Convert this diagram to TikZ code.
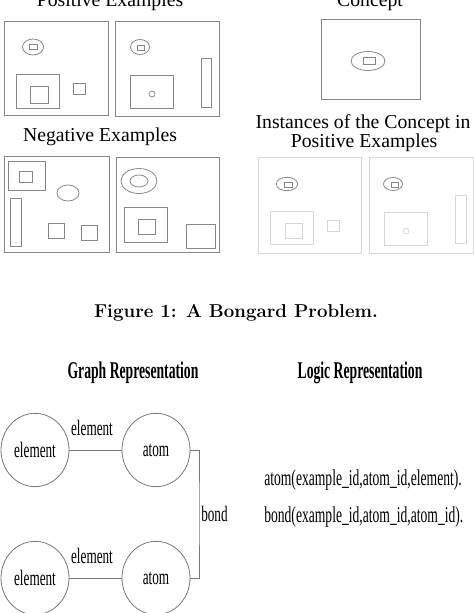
\documentclass[tikz,border=0pt]{standalone}
\usepackage{fontspec}
\usepackage{xcolor}
\usepackage{tikz}
\newfontfamily\timesfont{Liberation Serif}
\newfontfamily\condfont[FakeStretch=0.6]{Liberation Serif}
\newfontfamily\condbold[FakeStretch=0.57]{Liberation Serif}
\definecolor{boxgray}{RGB}{135,135,135}
\definecolor{linegray}{RGB}{120,120,120}
\definecolor{faintgray}{RGB}{215,215,215}
\usetikzlibrary{shapes.geometric}

\begin{document}
\begin{tikzpicture}[x=0.75pt, y=-0.75pt,
    panel/.style={draw=boxgray, line width=0.6pt},
    faint/.style={draw=faintgray, line width=0.6pt},
    head/.style={font=\timesfont\fontsize{14.8}{18}\selectfont, anchor=base},
    gnode/.style={ellipse, draw=linegray, line width=0.6pt,
                  minimum width=51pt, minimum height=55pt, inner sep=0pt,
                  font=\condfont\fontsize{16.5}{20}\selectfont},
    glabel/.style={font=\condfont\fontsize{16.5}{20}\selectfont, anchor=base, inner sep=0pt},
    gline/.style={draw=linegray, line width=0.6pt},
    gtitle/.style={font=\condbold\bfseries\fontsize{18}{22}\selectfont, anchor=base},
    fact/.style={font=\condfont\fontsize{17}{20}\selectfont, anchor=base west, inner sep=0pt}
]
    \useasboundingbox (0,0) rectangle (474,613);
    % positive examples
    \node[head] (postitle) at (110,7) {Positive Examples};
    \draw[panel] (4,21) rectangle (108,115);
    \draw[panel] (33,47) ellipse [x radius=10.5, y radius=8];
    \draw[panel] (29,44) rectangle (37,49);
    \draw[panel] (16,74) rectangle (59,108);
    \draw[panel] (30,86) rectangle (48,103);
    \draw[panel] (73,83) rectangle (85,94);
    \draw[panel] (115,21) rectangle (219,116);
    \draw[panel] (140,47) ellipse [x radius=9.5, y radius=7.5];
    \draw[panel] (137,45) rectangle (144,50);
    \draw[panel] (130,75) rectangle (173,108);
    \draw[panel] (152,94) circle [radius=3];
    \draw[panel] (201,58) rectangle (211,107);
    % concept
    \node[head] (contitle) at (370,7) {Concept};
    \draw[panel] (321,19) rectangle (420,99);
    \draw[panel] (368,61) ellipse [x radius=17, y radius=9.5];
    \draw[panel] (363,57) rectangle (375,64);
    % negative examples
    \node[head] (negtitle) at (100,142) {Negative Examples};
    \draw[panel] (4,156) rectangle (109,252);
    \draw[panel] (8,161) rectangle (45,190);
    \draw[panel] (19,171) rectangle (32,182);
    \draw[panel] (68,193) ellipse [x radius=11, y radius=8];
    \draw[panel] (10,198) rectangle (21,246);
    \draw[panel] (48,223) rectangle (64,238);
    \draw[panel] (81,225) rectangle (97,240);
    \draw[panel] (116,157) rectangle (219,252);
    \draw[panel] (139,181) ellipse [x radius=18, y radius=12.5];
    \draw[panel] (139,181) ellipse [x radius=9, y radius=6];
    \draw[panel] (124,207) rectangle (167,242);
    \draw[panel] (138,219) rectangle (155,234);
    \draw[panel] (186,224) rectangle (215,248);
    % instances
    \node[head] (insttitle) at (363,128) {Instances of the Concept in};
    \node[head] (insttitleb) at (364,147) {Positive Examples};
    \draw[faint] (258,157) rectangle (361,253);
    \draw[panel] (287,184) ellipse [x radius=10.7, y radius=6.7];
    \draw[panel] (284,182) rectangle (292,187);
    \draw[faint] (270,211) rectangle (313,244);
    \draw[faint] (285,223) rectangle (302,238);
    \draw[faint] (327,220) rectangle (339,231);
    \draw[faint] (369,157) rectangle (473,253);
    \draw[panel] (393,184) ellipse [x radius=9.5, y radius=6.5];
    \draw[panel] (391,182) rectangle (398,187);
    \draw[faint] (384,212) rectangle (427,245);
    \draw[faint] (406,231) circle [radius=3];
    \draw[faint] (455,195) rectangle (466,243);
    \node[font=\bfseries\fontsize{14}{16}\selectfont, anchor=base] (caption) at (236,317) {Figure 1: A Bongard Problem.};
    % graph and logic
    \node[gtitle] (graphtitle) at (133,378) {Graph Representation};
    \node[gtitle] (logictitle) at (360,378) {Logic Representation};
    \node[gnode] (elem1) at (35,450) {element};
    \node[gnode] (atom1) at (156,450) {atom};
    \node[gnode] (elem2) at (35,578) {element};
    \node[gnode] (atom2) at (156,578) {atom};
    \draw[gline] (elem1) -- (atom1);
    \draw[gline] (elem2) -- (atom2);
    \node[glabel] (elemlab1) at (92,435) {element};
    \node[glabel] (elemlab2) at (92,563) {element};
    \coordinate (bondturn) at (199,513);
    \draw[gline] (atom1.east) -| (bondturn) |- (atom2.east);
    \node[glabel, anchor=base west] (bondlab) at (201,521) {bond};
    \node[fact] (atomfact) at (264,485) {atom(example\_id,atom\_id,element).};
    \node[fact] (bondfact) at (264,522) {bond(example\_id,atom\_id,atom\_id).};
\end{tikzpicture}
\end{document}
